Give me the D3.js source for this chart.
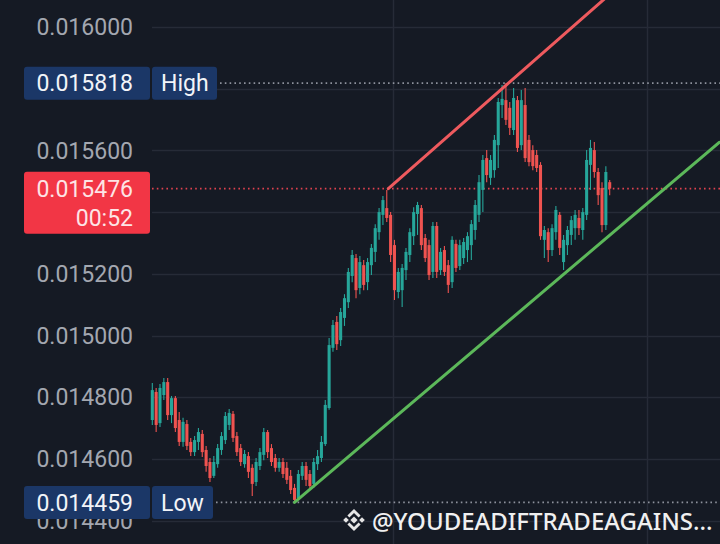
<!DOCTYPE html>
<html><head><meta charset="utf-8">
<script src="https://cdn.jsdelivr.net/npm/d3@7"></script>
<style>html,body{margin:0;padding:0;background:#151a24;}svg{display:block;}</style>
</head><body>
<script>
// OHLC data (price, USDT)
const open = [0.014726,0.014817,0.014716,0.014807,0.014849,0.014742,0.014797,0.014726,0.014655,0.014713,0.014655,0.014622,0.014655,0.014681,0.014629,0.014590,0.014545,0.014583,0.014629,0.014661,0.014710,0.014746,0.014674,0.014635,0.014583,0.014609,0.014571,0.014525,0.014577,0.014613,0.014687,0.014635,0.014603,0.014571,0.014590,0.014571,0.014545,0.014506,0.014473,0.014545,0.014577,0.014551,0.014519,0.014583,0.014603,0.014648,0.014765,0.014960,0.015044,0.014985,0.015057,0.015108,0.015193,0.015251,0.015154,0.015228,0.015173,0.015228,0.015271,0.015335,0.015391,0.015413,0.015391,0.015293,0.015141,0.015147,0.015212,0.015261,0.015322,0.015394,0.015413,0.015316,0.015293,0.015206,0.015355,0.015212,0.015277,0.015228,0.015173,0.015297,0.015225,0.015251,0.015277,0.015293,0.015342,0.015391,0.015472,0.015575,0.015511,0.015536,0.015617,0.015747,0.015763,0.015738,0.015666,0.015763,0.015617,0.015747,0.015634,0.015601,0.015585,0.015553,0.015310,0.015335,0.015277,0.015335,0.015391,0.015238,0.015293,0.015326,0.015348,0.015381,0.015342,0.015391,0.015553,0.015601,0.015530,0.015478,0.015358,0.015497];
const high = [0.014846,0.014830,0.014843,0.014862,0.014862,0.014804,0.014804,0.014752,0.014733,0.014726,0.014668,0.014674,0.014700,0.014694,0.014642,0.014603,0.014609,0.014648,0.014687,0.014752,0.014762,0.014755,0.014687,0.014648,0.014629,0.014622,0.014583,0.014603,0.014635,0.014700,0.014694,0.014648,0.014616,0.014603,0.014603,0.014590,0.014564,0.014519,0.014564,0.014590,0.014590,0.014564,0.014603,0.014629,0.014674,0.014791,0.014992,0.015050,0.015063,0.015089,0.015134,0.015219,0.015277,0.015264,0.015258,0.015245,0.015251,0.015297,0.015361,0.015413,0.015452,0.015472,0.015400,0.015310,0.015219,0.015232,0.015284,0.015348,0.015416,0.015433,0.015423,0.015329,0.015310,0.015368,0.015368,0.015284,0.015290,0.015245,0.015322,0.015310,0.015310,0.015316,0.015335,0.015374,0.015439,0.015520,0.015585,0.015601,0.015585,0.015650,0.015770,0.015812,0.015818,0.015757,0.015802,0.015776,0.015796,0.015802,0.015650,0.015617,0.015601,0.015562,0.015355,0.015348,0.015361,0.015420,0.015400,0.015326,0.015355,0.015387,0.015407,0.015407,0.015413,0.015601,0.015634,0.015627,0.015543,0.015497,0.015549,0.015504];
const low = [0.014710,0.014687,0.014703,0.014791,0.014726,0.014716,0.014687,0.014642,0.014639,0.014629,0.014609,0.014609,0.014629,0.014606,0.014558,0.014525,0.014538,0.014571,0.014613,0.014648,0.014694,0.014655,0.014609,0.014577,0.014571,0.014538,0.014480,0.014512,0.014564,0.014596,0.014603,0.014577,0.014558,0.014558,0.014538,0.014519,0.014486,0.014459,0.014467,0.014532,0.014512,0.014499,0.014506,0.014564,0.014590,0.014642,0.014759,0.014947,0.014953,0.014966,0.015031,0.015089,0.015173,0.015121,0.015134,0.015147,0.015147,0.015196,0.015238,0.015310,0.015358,0.015368,0.015238,0.015115,0.015121,0.015092,0.015180,0.015238,0.015293,0.015326,0.015277,0.015238,0.015180,0.015186,0.015186,0.015196,0.015193,0.015138,0.015154,0.015206,0.015212,0.015232,0.015238,0.015245,0.015310,0.015368,0.015400,0.015497,0.015488,0.015511,0.015543,0.015705,0.015682,0.015650,0.015650,0.015595,0.015601,0.015562,0.015549,0.015536,0.015530,0.015310,0.015251,0.015238,0.015258,0.015310,0.015261,0.015212,0.015261,0.015293,0.015310,0.015326,0.015310,0.015374,0.015472,0.015511,0.015423,0.015335,0.015342,0.015455];
const close = [0.014823,0.014710,0.014830,0.014849,0.014742,0.014797,0.014700,0.014655,0.014720,0.014642,0.014622,0.014661,0.014687,0.014622,0.014577,0.014538,0.014590,0.014635,0.014674,0.014739,0.014749,0.014668,0.014622,0.014590,0.014616,0.014558,0.014519,0.014590,0.014622,0.014687,0.014622,0.014590,0.014571,0.014590,0.014551,0.014532,0.014499,0.014467,0.014551,0.014577,0.014532,0.014512,0.014590,0.014609,0.014655,0.014775,0.014969,0.015034,0.014972,0.015076,0.015121,0.015206,0.015261,0.015147,0.015238,0.015164,0.015238,0.015284,0.015348,0.015400,0.015439,0.015381,0.015261,0.015147,0.015206,0.015219,0.015271,0.015335,0.015400,0.015423,0.015293,0.015251,0.015196,0.015355,0.015206,0.015271,0.015206,0.015164,0.015310,0.015219,0.015293,0.015303,0.015322,0.015361,0.015423,0.015497,0.015569,0.015520,0.015569,0.015634,0.015757,0.015767,0.015699,0.015673,0.015770,0.015608,0.015763,0.015575,0.015562,0.015549,0.015543,0.015322,0.015342,0.015277,0.015348,0.015407,0.015284,0.015310,0.015342,0.015374,0.015391,0.015348,0.015400,0.015569,0.015608,0.015530,0.015455,0.015358,0.015530,0.015476];

const gridValues = [0.0144,0.0146,0.0148,0.0150,0.0152,0.0154,0.0156,0.0158,0.0160];
const tickValues = [0.0160,0.0156,0.0152,0.0150,0.0148,0.0146,0.0144];
const tickLabels = ["0.016000","0.015600","0.015200","0.015000","0.014800","0.014600","0.014400"];
const highValue = 0.015818, highLabel = "0.015818", highText = "High";
const lowValue = 0.014459, lowLabel = "0.014459", lowText = "Low";
const lastValue = 0.015476, lastLabel = "0.015476", countdown = "00:52";
// trend lines: [candle index, price]
const resistance = [[61.4, 0.015476], [118, 0.016095]];
const support = [[37, 0.014459], [147.5, 0.015626]];
const vGridIdx = [62.6, 128.6];
const watermark = "@YOUDEADIFTRADEAGAINS...";

const W = 720, H = 544;
const svg = d3.select("body").append("svg").attr("width", W).attr("height", H);
svg.append("rect").attr("width", W).attr("height", H).attr("fill", "#151a24");

const n = close.length;
const idx = d3.range(n);
const x = d3.scaleBand().domain(idx).range([150, 612]).padding(0.2);
const xc = d3.scaleLinear().domain([0, n - 1]).range([x(0) + x.bandwidth() / 2, x(n - 1) + x.bandwidth() / 2]);
const y = d3.scaleLinear().domain([0.0144, 0.0160]).range([520.6, 27]);
const plotL = 152;

const defs = svg.append("defs");
defs.append("clipPath").attr("id", "plot").append("rect").attr("x", plotL).attr("y", 0).attr("width", W - plotL).attr("height", H);

// grid
const grid = svg.append("g");
grid.selectAll("line.h").data(gridValues).join("line")
  .attr("x1", plotL).attr("x2", W).attr("y1", d => Math.round(y(d)) + 0.5).attr("y2", d => Math.round(y(d)) + 0.5)
  .attr("stroke", "#262b37").attr("stroke-width", 1.5);
grid.selectAll("line.v").data(vGridIdx).join("line")
  .attr("x1", d => Math.round(xc(d)) + 0.5).attr("x2", d => Math.round(xc(d)) + 0.5).attr("y1", 0).attr("y2", H)
  .attr("stroke", "#262b37").attr("stroke-width", 1.5);

// dotted level lines
svg.append("line").attr("x1", 220).attr("x2", W).attr("y1", y(highValue)).attr("y2", y(highValue))
  .attr("stroke", "#8d919c").attr("stroke-width", 1.6).attr("stroke-dasharray", "1.6,3.2");
svg.append("line").attr("x1", 216).attr("x2", W).attr("y1", y(lowValue)).attr("y2", y(lowValue))
  .attr("stroke", "#8d919c").attr("stroke-width", 1.6).attr("stroke-dasharray", "1.6,3.2");
svg.append("line").attr("x1", plotL).attr("x2", W).attr("y1", y(lastValue)).attr("y2", y(lastValue))
  .attr("stroke", "#e0424f").attr("stroke-width", 1.6).attr("stroke-dasharray", "1.6,3.2");

// candles
const up = "#26a69a", down = "#ef5350";
const c = svg.append("g").selectAll("g").data(idx).join("g");
c.append("line")
  .attr("x1", i => x(i) + x.bandwidth() / 2).attr("x2", i => x(i) + x.bandwidth() / 2)
  .attr("y1", i => y(high[i])).attr("y2", i => y(low[i]))
  .attr("stroke", i => close[i] >= open[i] ? up : down).attr("stroke-width", 1.1);
c.append("rect")
  .attr("x", i => x(i)).attr("width", x.bandwidth())
  .attr("y", i => y(Math.max(open[i], close[i])))
  .attr("height", i => Math.max(1, Math.abs(y(open[i]) - y(close[i]))))
  .attr("fill", i => close[i] >= open[i] ? up : down);

// trend lines
const tl = d3.line().x(d => xc(d[0])).y(d => y(d[1]));
const tg = svg.append("g").attr("clip-path", "url(#plot)");
tg.append("path").attr("d", tl(resistance)).attr("stroke", "#ee5a5e").attr("stroke-width", 3).attr("fill", "none").attr("stroke-linecap", "round");
tg.append("path").attr("d", tl(support)).attr("stroke", "#5cb85a").attr("stroke-width", 3).attr("fill", "none").attr("stroke-linecap", "round");

// y axis labels
const font = "Roboto, 'Noto Sans', sans-serif";
svg.append("g").selectAll("text").data(tickValues).join("text")
  .attr("x", 133).attr("y", d => y(d)).attr("dy", "0.36em")
  .attr("text-anchor", "end").attr("font-family", font).attr("font-size", 23)
  .attr("fill", "#a3a7b0").text((d, i) => tickLabels[i]);

// high / low tags
function tag(val, label, word, wordW) {
  const cy = y(val);
  const g = svg.append("g");
  g.append("rect").attr("x", 24).attr("y", cy - 16.5).attr("width", 126).attr("height", 33).attr("rx", 3).attr("fill", "#1b3767");
  g.append("rect").attr("x", 152).attr("y", cy - 16.5).attr("width", wordW).attr("height", 33).attr("rx", 3).attr("fill", "#1b3767");
  g.append("text").attr("x", 133).attr("y", cy).attr("dy", "0.36em").attr("text-anchor", "end")
    .attr("font-family", font).attr("font-size", 23).attr("fill", "#f2f4f8").text(label);
  g.append("text").attr("x", 161).attr("y", cy).attr("dy", "0.36em")
    .attr("font-family", font).attr("font-size", 23).attr("fill", "#f2f4f8").text(word);
}
tag(highValue, highLabel, highText, 65);
tag(lowValue, lowLabel, lowText, 61);

// last price tag
const ly = y(lastValue);
svg.append("rect").attr("x", 24).attr("y", ly - 17).attr("width", 126).attr("height", 62).attr("rx", 3).attr("fill", "#f23645");
svg.append("text").attr("x", 133).attr("y", ly).attr("dy", "0.36em").attr("text-anchor", "end")
  .attr("font-family", font).attr("font-size", 23).attr("fill", "#fde4e6").text(lastLabel);
svg.append("text").attr("x", 133).attr("y", ly + 29).attr("dy", "0.36em").attr("text-anchor", "end")
  .attr("font-family", font).attr("font-size", 23).attr("fill", "#fde4e6").text(countdown);

// watermark
const wm = svg.append("g").attr("transform", "translate(354,520)").attr("fill", "#e6e6e6");
wm.append("path").attr("d", "M0,-3.6L3.6,0L0,3.6L-3.6,0Z");
wm.append("path").attr("d", "M-8,-2.8L-5.2,0L-8,2.8L-10.8,0Z");
wm.append("path").attr("d", "M8,-2.8L10.8,0L8,2.8L5.2,0Z");
wm.append("path").attr("d", "M0,-11L6.6,-4.4L4.6,-2.4L0,-7L-4.6,-2.4L-6.6,-4.4Z");
wm.append("path").attr("d", "M0,11L6.6,4.4L4.6,2.4L0,7L-4.6,2.4L-6.6,4.4Z");
svg.append("text").attr("x", 372).attr("y", 521).attr("dy", "0.36em")
  .attr("font-family", "'Noto Sans', sans-serif").attr("font-weight", 500).attr("font-size", 24)
  .attr("fill", "#f0f0f0").text(watermark);
</script>
</body></html>
